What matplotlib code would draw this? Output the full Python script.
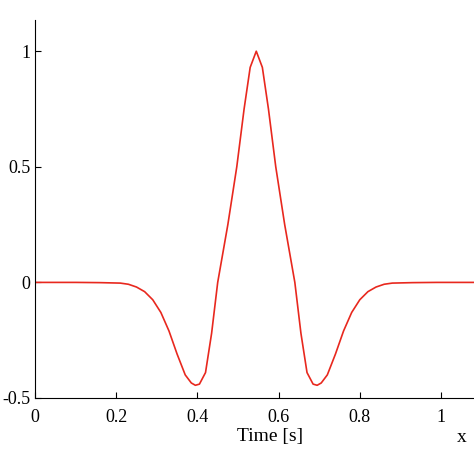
import matplotlib
matplotlib.use("Agg")
import matplotlib.pyplot as plt

time_s = [0.0, 0.10, 0.16, 0.21, 0.23, 0.25, 0.27, 0.29, 0.31, 0.33, 0.35, 0.37, 0.385, 0.395, 0.405,
          0.42, 0.435, 0.45, 0.475, 0.497, 0.515, 0.53, 0.545,
          0.56, 0.575, 0.593, 0.615, 0.64, 0.655, 0.67, 0.685, 0.695, 0.705,
          0.72, 0.74, 0.76, 0.78, 0.80, 0.82, 0.84, 0.86, 0.88, 0.93, 0.99, 1.10]
amplitude = [0.0, 0.0, -0.001, -0.003, -0.008, -0.02, -0.04, -0.075, -0.13, -0.21, -0.31, -0.40, -0.435, -0.445, -0.44,
             -0.39, -0.22, 0.0, 0.25, 0.5, 0.75, 0.93, 1.0,
             0.93, 0.75, 0.5, 0.25, 0.0, -0.22, -0.39, -0.44, -0.445, -0.435,
             -0.40, -0.31, -0.21, -0.13, -0.075, -0.04, -0.02, -0.008, -0.003, -0.001, 0.0, 0.0]
xticks = [0, 0.2, 0.4, 0.6, 0.8, 1]
xticklabels = ["0", "0.2", "0.4", "0.6", "0.8", "1"]
yticks = [-0.5, 0, 0.5, 1]
yticklabels = ["-0.5", "0", "0.5", "1"]

plt.rcParams['font.family'] = ['Liberation Serif']
fig = plt.figure(figsize=(4.74, 4.74), dpi=100)
ax = fig.add_axes([35/474, 76/474, 439/474, 378/474])
ax.plot(time_s, amplitude, color="#e8281e", lw=1.2)
ax.set_xlim(0, 439/406)
ax.set_ylim(-0.5, 1.135)
ax.set_xticks(xticks, xticklabels)
ax.set_yticks(yticks, yticklabels)
ax.tick_params(direction="in", labelsize=13, length=4)
ax.tick_params(axis="x", pad=8)
for s in ["top", "right"]:
    ax.spines[s].set_visible(False)
fig.text(270/474, 1-437/474, "Time [s]", ha="center", va="center", fontsize=14)
fig.text(462/474, 1-437/474, "x", ha="center", va="center", fontsize=14)
fig.savefig("out.png", dpi=100)
